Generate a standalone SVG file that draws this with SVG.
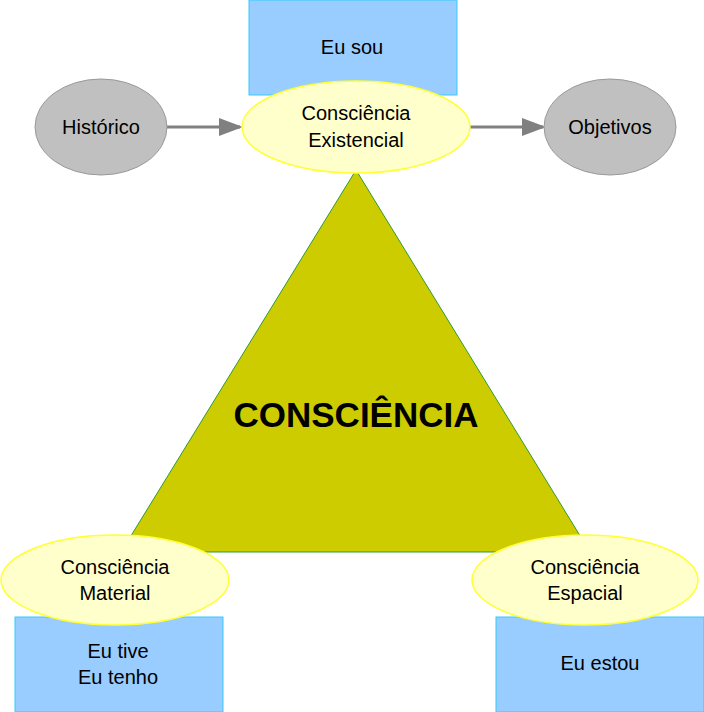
<svg xmlns="http://www.w3.org/2000/svg" width="704" height="712" viewBox="0 0 704 712">
<style>
text{font-family:"Liberation Sans",Arial,sans-serif;font-size:20px;fill:#000;text-anchor:middle}
.box{fill:#99ccff;stroke:#33ccff;stroke-width:1}
.cons{fill:#ffffcc;stroke:#ffff33;stroke-width:1.5}
.grey{fill:#c0c0c0;stroke:#999;stroke-width:1}
.arr{stroke:#808080;stroke-width:3;fill:none;marker-end:url(#ah)}
</style>
<defs><marker id="ah" markerWidth="8" markerHeight="6" refX="7" refY="3" orient="auto" markerUnits="strokeWidth"><path d="M0,0L8,3L0,6z" fill="#808080"/></marker></defs>
<rect width="704" height="712" fill="#fff"/>
<g id="triangle"><polygon points="356,170 121,552 590,552" fill="#cccc00" stroke="#339933" stroke-width="1"/><text x="356" y="427" style="font-size:35px;font-weight:bold">CONSCIÊNCIA</text></g>
<g id="eusou"><rect class="box" x="249" y="0" width="208" height="95"/><text x="352" y="54">Eu sou</text></g>
<g id="tive"><rect class="box" x="15" y="617" width="208" height="95"/><text x="118" y="658">Eu tive</text><text x="118" y="684">Eu tenho</text></g>
<g id="estou"><rect class="box" x="496" y="617" width="208" height="95"/><text x="600" y="670">Eu estou</text></g>
<g id="connectors"><line class="arr" x1="167" y1="127" x2="240" y2="127"/><line class="arr" x1="470" y1="127" x2="543" y2="127"/></g>
<g id="existencial"><ellipse class="cons" cx="356" cy="127" rx="114" ry="46"/><text x="356" y="120">Consciência</text><text x="356" y="147">Existencial</text></g>
<g id="historico"><ellipse class="grey" cx="101" cy="127" rx="66" ry="48"/><text x="101" y="134">Histórico</text></g>
<g id="objetivos"><ellipse class="grey" cx="610" cy="127" rx="66" ry="48"/><text x="610" y="134">Objetivos</text></g>
<g id="material"><ellipse class="cons" cx="115" cy="580" rx="114" ry="45"/><text x="115" y="574">Consciência</text><text x="115" y="600">Material</text></g>
<g id="espacial"><ellipse class="cons" cx="585" cy="580" rx="113" ry="45"/><text x="585" y="574">Consciência</text><text x="585" y="600">Espacial</text></g>
</svg>
